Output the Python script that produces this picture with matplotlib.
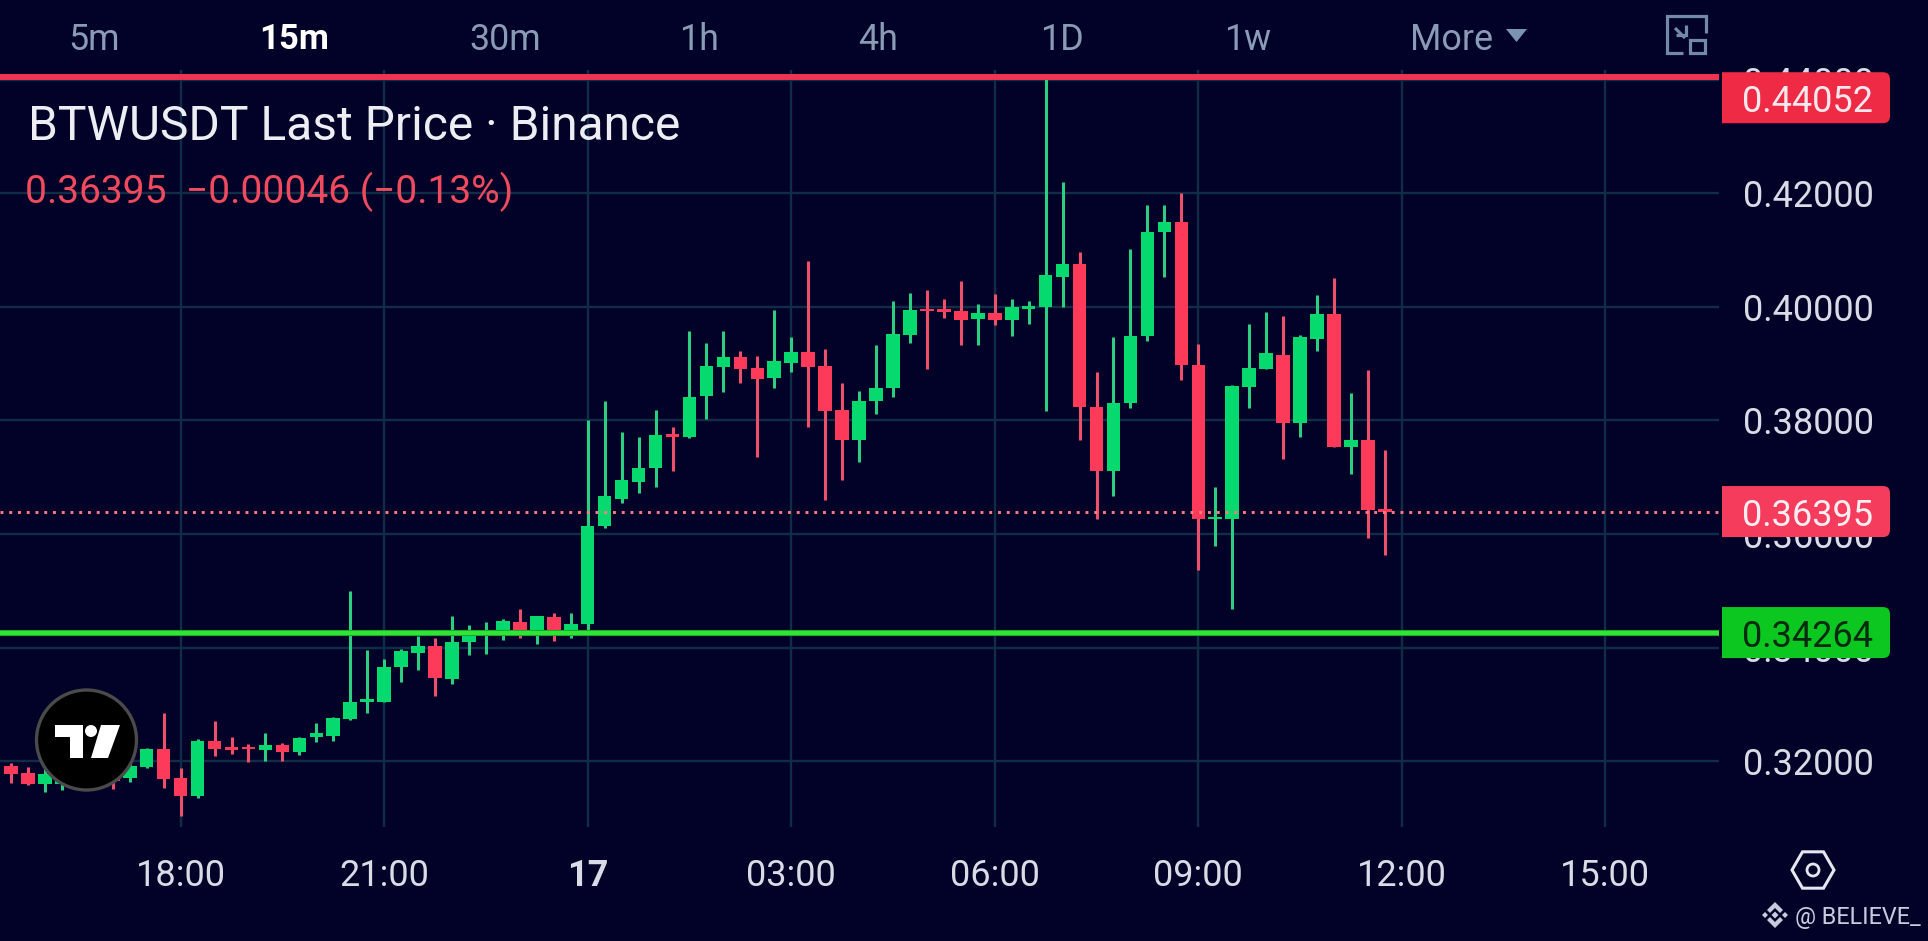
import numpy as np
import matplotlib
matplotlib.use("Agg")
import matplotlib.pyplot as plt
from matplotlib.lines import Line2D
from matplotlib.patches import PathPatch, Polygon, Circle, RegularPolygon, Rectangle
from matplotlib.path import Path
from matplotlib.transforms import IdentityTransform

plt.rcParams['font.family'] = ['Roboto', 'DejaVu Sans']

W, H = 1928, 941
BG = '#020128'
GRID = '#0f2e46'
UP = '#06d96e'
UP_WICK = '#2ccf82'
DOWN = '#fd3a5a'
DOWN_WICK = '#ee506c'

candle_index = list(range(-10, 72))
opens = [.3191,.3179,.3160,.3160,.3172,.3165,.3185,.3170,.3189,.3221,
         .3171,.3139,.3236,.3225,.3225,.3220,.3229,.3216,.3243,.3245,
         .3274,.3304,.3304,.3365,.3391,.3403,.3345,.3409,.3425,.3422,
         .3445,.3424,.3454,.3424,.3441,.3614,.3662,.3691,.3716,.3776,
         .3770,.3843,.3894,.3911,.3892,.3875,.3901,.3920,.3895,.3818,
         .3766,.3834,.3857,.3951,.3996,.3996,.3993,.3979,.3989,.3976,
         .3996,.3999,.4053,.4075,.3823,.3710,.3831,.3948,.4131,.4150,
         .3897,.3626,.3627,.3858,.3891,.3916,.3795,.3944,.3987,.3754,
         .3765,.36441]
closes = [.3178,.3160,.3178,.3170,.3165,.3175,.3165,.3192,.3221,.3169,
          .3139,.3236,.3222,.3220,.3221,.3229,.3216,.3241,.3249,.3276,
          .3304,.3310,.3366,.3394,.3403,.3347,.3410,.3424,.3428,.3447,
          .3430,.3456,.3430,.3441,.3614,.3666,.3695,.3717,.3775,.3771,
          .3841,.3896,.3911,.3891,.3873,.3904,.3920,.3894,.3816,.3766,
          .3834,.3857,.3953,.3994,.3993,.3991,.3977,.3989,.3977,.3999,
          .4002,.4056,.4075,.3823,.3710,.3831,.3949,.4131,.4149,.3897,
          .3626,.3630,.3860,.3893,.3919,.3795,.3947,.3987,.3754,.3765,
          .3643,.36395]
highs = [.3196,.3189,.3188,.3178,.3180,.3185,.3195,.3196,.3223,.3285,
         .3188,.3239,.3270,.3243,.3230,.3249,.3232,.3243,.3267,.3277,
         .3499,.3396,.3380,.3398,.3420,.3416,.3456,.3439,.3445,.3450,
         .3468,.3456,.3461,.3461,.3800,.3834,.3779,.3771,.3819,.3788,
         .3957,.3936,.3957,.3922,.3913,.3994,.3947,.4081,.3925,.3865,
         .3851,.3932,.4010,.4024,.4030,.4013,.4045,.4005,.4023,.4014,
         .4010,.44052,.4219,.4096,.3885,.3947,.4102,.4180,.4180,.4201,
         .3934,.3683,.3862,.3970,.3990,.3984,.3951,.4021,.4050,.3848,
         .3889,.3747]
lows = [.3162,.3158,.3145,.3150,.3155,.3160,.3151,.3164,.3188,.3152,
        .3103,.3135,.3209,.3212,.3198,.3201,.3201,.3211,.3234,.3236,
        .3272,.3285,.3304,.3340,.3361,.3314,.3336,.3387,.3389,.3414,
        .3416,.3407,.3411,.3417,.3431,.3610,.3655,.3673,.3682,.3711,
        .3769,.3802,.3850,.3866,.3735,.3857,.3885,.3789,.3659,.3695,
        .3726,.3811,.3841,.3937,.3891,.3980,.3933,.3933,.3968,.3949,
        .3970,.3816,.3999,.3766,.3627,.3666,.3821,.3940,.4053,.3872,
        .3537,.3578,.3467,.3821,.3891,.3732,.3771,.3922,.3754,.3706,
        .3593,.3563]

y_ticks = [0.32, 0.34, 0.36, 0.38, 0.40, 0.42, 0.44]
y_tick_labels = ['0.32000', '0.34000', '0.36000', '0.38000', '0.40000', '0.42000', '0.44000']
x_ticks = [0, 12, 24, 36, 48, 60, 72, 84]
x_tick_labels = ['18:00', '21:00', '17', '03:00', '06:00', '09:00', '12:00', '15:00']

high_price = 0.44052
last_price = 0.36395
low_price = 0.34264
menu_items = ['5m', '15m', '30m', '1h', '4h', '1D', '1w', 'More']
title = 'BTWUSDT Last Price · Binance'
subtitle = '0.36395  −0.00046 (−0.13%)'

fig = plt.figure(figsize=(W / 100, H / 100), dpi=100, facecolor=BG)
PLOT_R, PLOT_T, PLOT_B = 1719, 70, 827
ax = fig.add_axes([0, (H - PLOT_B) / H, PLOT_R / W, (PLOT_B - PLOT_T) / H], facecolor=BG)
ax.set_xlim(-10.65, 90.7)
ax.set_ylim(0.3084, 0.4417)
for s in ax.spines.values():
    s.set_visible(False)

ax.set_axisbelow(True)
ax.grid(True, color=GRID, lw=1.7)
ax.yaxis.tick_right()
ax.set_yticks(y_ticks, y_tick_labels)
ax.set_xticks(x_ticks, x_tick_labels)
ax.tick_params(axis='both', length=0, labelcolor='#d9dce6', labelsize=26)
ax.tick_params(axis='y', pad=17)
ax.tick_params(axis='x', pad=22)
for lab in ax.get_xticklabels():
    if lab.get_text() == '17':
        lab.set_fontweight('bold')

x = np.array(candle_index, dtype=float)
o, c, hi, lo = map(np.array, (opens, closes, highs, lows))
up = c >= o
ax.vlines(x[up], lo[up], hi[up], color=UP_WICK, lw=2.2, zorder=3)
ax.vlines(x[~up], lo[~up], hi[~up], color=DOWN_WICK, lw=2.2, zorder=3)
ax.bar(x[up], (c - o)[up], bottom=o[up], width=0.8, color=UP, zorder=4)
ax.bar(x[~up], (o - c)[~up], bottom=c[~up], width=0.8, color=DOWN, zorder=4)

ax.axhline(high_price, color='#ef3350', lw=4.3, zorder=5)
ax.axhline(low_price, color='#12a828', lw=4.4, zorder=5)
ax.axhline(low_price, color='#35e338', lw=3.0, zorder=5.1)
ax.axhline(last_price, color='#ff7a80', lw=2.1, ls=(0, (1, 2)), zorder=5)


def Y(py):
    return H - py


def tag(center_py, fill, text, text_color):
    l, r, t, b, rad = 1722, 1890, Y(center_py - 25.5), Y(center_py + 25.5), 7
    verts = [(l, b), (r - rad, b), (r, b), (r, b + rad), (r, t - rad), (r, t), (r - rad, t), (l, t), (l, b)]
    codes = [Path.MOVETO, Path.LINETO, Path.CURVE3, Path.CURVE3, Path.LINETO,
             Path.CURVE3, Path.CURVE3, Path.LINETO, Path.CLOSEPOLY]
    fig.add_artist(PathPatch(Path(verts, codes), facecolor=fill, edgecolor='none',
                             transform=IdentityTransform()))
    fig.text(1808 / W, Y(center_py) / H, text, color=text_color, fontsize=26,
             ha='center', va='center_baseline')


fig.canvas.draw()
last_py = H - ax.transData.transform((0, last_price))[1]
low_py = H - ax.transData.transform((0, low_price))[1]
tag(97.7, '#ee2a45', f'{high_price:.5f}', '#f6e8ec')
tag(last_py, '#f53c5c', f'{last_price:.5f}', '#fbeef2')
tag(low_py, '#0cc71f', f'{low_price:.5f}', '#062a10')

# header
fig.text(28 / W, Y(122) / H, title, color='#eceef3', fontsize=34.5, ha='left', va='center_baseline')
fig.text(25 / W, Y(187) / H, subtitle, color='#ef4a5e', fontsize=28.1, ha='left', va='center_baseline')

menu_x = [94, 294, 505, 699, 878, 1062, 1248, 1452]
for label, mx in zip(menu_items, menu_x):
    active = label == '15m'
    fig.text(mx / W, Y(36) / H, label, color='#ffffff' if active else '#8a9bb5',
             fontsize=25 if active else 25.8, fontweight='bold' if active else 'normal',
             ha='center', va='center_baseline')
fig.add_artist(Polygon([(1506, Y(29)), (1527, Y(29)), (1516.5, Y(42))], closed=True,
                       facecolor='#7d93b3', edgecolor='none', transform=IdentityTransform()))

# expand icon
IC = '#7488a8'


def seg(xs, ys, color=IC, lw=2.3):
    fig.add_artist(Line2D(xs, [Y(v) for v in ys], color=color, lw=lw,
                          transform=IdentityTransform(), solid_capstyle='butt', solid_joinstyle='miter'))


seg([1706, 1706, 1667, 1667, 1683], [33, 16, 16, 53, 53])
seg([1675, 1685], [28, 38])
seg([1676, 1686, 1686], [35, 35, 25])
fig.add_artist(Rectangle((1690, Y(53)), 15, 13, facecolor='none', edgecolor=IC, lw=2.3,
                         transform=IdentityTransform()))

# settings icon
fig.add_artist(RegularPolygon((1813, Y(870)), 6, radius=21, orientation=np.pi / 6,
                              facecolor='none', edgecolor='#e4e7ef', lw=2.2,
                              transform=IdentityTransform()))
fig.add_artist(Circle((1813, Y(870)), 6, facecolor='none', edgecolor='#e4e7ef', lw=2.0,
                      transform=IdentityTransform()))

# watermark
WM = '#c8cbdb'
cx, cy = 1775, 915
chevron = [(0, -13), (8, -5), (5, -2), (0, -7), (-5, -2), (-8, -5)]
for sgn in (1, -1):
    fig.add_artist(Polygon([(cx + a, Y(cy + sgn * b)) for a, b in chevron], closed=True,
                           facecolor=WM, edgecolor='none', transform=IdentityTransform()))
for dx, r in [(0, 3.5), (-10, 3), (10, 3)]:
    fig.add_artist(RegularPolygon((cx + dx, Y(cy)), 4, radius=r, facecolor=WM, edgecolor='none',
                                  transform=IdentityTransform()))
fig.text(1795 / W, Y(915) / H, '@ BELIEVE_', color=WM, fontsize=16.8, ha='left', va='center_baseline')

# TradingView badge
fig.add_artist(Circle((86.5, Y(740)), 50, facecolor='#000000', edgecolor='#4a4a4a', lw=2.4,
                      transform=IdentityTransform()))
logo_t = [(55, 725), (83, 725), (83, 758), (70, 758), (70, 737), (55, 737)]
logo_slash = [(101, 725), (120, 725), (108, 758), (91, 758)]
for pts in (logo_t, logo_slash):
    fig.add_artist(Polygon([(a, Y(b)) for a, b in pts], closed=True, facecolor='#ffffff',
                           edgecolor='none', transform=IdentityTransform()))
fig.add_artist(Circle((91, Y(731)), 6, facecolor='#ffffff', edgecolor='none',
                      transform=IdentityTransform()))

fig.savefig('out.png', dpi=100, facecolor=BG)
